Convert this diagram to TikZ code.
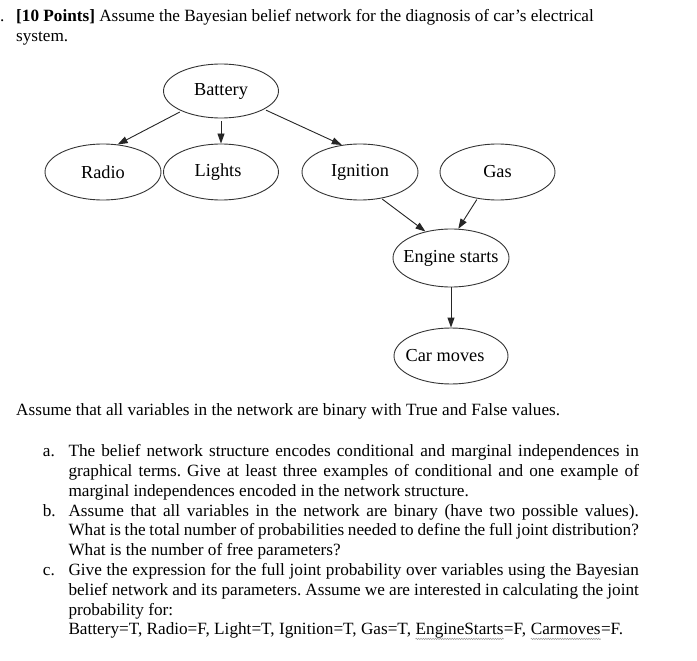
\documentclass[tikz,border=0pt]{standalone}
\usepackage{fontspec}
\setmainfont{Liberation Serif}
\usetikzlibrary{shapes.geometric,arrows.meta,decorations.pathmorphing}
\newcommand\bodyfont{\fontsize{17.2pt}{19.8pt}\selectfont}
\newcommand\diafont{\fontsize{18.3pt}{20pt}\selectfont}
\newcommand\jline[1]{\makebox[570.4pt][s]{#1}}
\frenchspacing
\begin{document}
\begin{tikzpicture}[x=1pt,y=-1pt,
  ell/.style={ellipse,draw=black!80,line width=0.9pt,inner sep=0pt,minimum width=115pt,minimum height=56pt,font=\diafont},
  arr/.style={draw=black!85,line width=0.9pt,-{Triangle[length=10pt,width=7pt]}},
  txt/.style={anchor=base west,inner sep=0pt,font=\bodyfont},
  wave/.style={draw=black!40,line width=0.5pt,decorate,decoration={snake,amplitude=0.7pt,segment length=2.4pt}}]
\useasboundingbox[fill=white] (0,0) rectangle (697,661);

% heading
\node[txt] (dot) at (0,22) {.};
\node[txt] (head1) at (16,22) {\textbf{[10 Points]} Assume the Bayesian belief network for the diagnosis of car’s electrical};
\node[txt] (head2) at (16,41.5) {system.};

% network
\node[ell,minimum width=115pt,minimum height=54pt] (bat) at (221,91) {Battery};
\node[ell,minimum width=116pt] (radio) at (103,172) {Radio};
\node[ell] (lights) at (221,172) {Lights\hspace*{6pt}};
\node[ell,minimum width=116pt] (ign) at (360,172) {Ignition};
\node[ell] (gas) at (497.5,172) {Gas};
\node[ell,inner xsep=-8pt,minimum width=116pt,minimum height=58pt] (eng) at (451,258) {Engine starts};
\node[ell,inner xsep=-8pt,minimum width=114pt] (car) at (451,356) {Car moves\hspace*{12pt}};

\draw[arr,shorten <=2pt] (bat.207) -- (radio.62);
\draw[arr,shorten <=3pt] (bat.south) -- (lights.north);
\draw[arr,shorten <=2pt] (bat.337) -- (ign.124);
\draw[arr,shorten <=1pt] (ign.309) -- (eng.134);
\draw[arr,shorten <=1pt] (gas.233) -- (eng.76);
\draw[arr] (eng.south) -- (car.north);

% text
\node[txt] (intro) at (16,415.7) {Assume that all variables in the network are binary with True and False values.};

\node[txt] (la) at (42.7,456.7) {a.};
\node[txt] (a1) at (68.3,456.7) {\jline{The belief network structure encodes conditional and marginal independences in}};
\node[txt] (a2) at (68.3,476.5) {\jline{graphical terms. Give at least three examples of conditional and one example of}};
\node[txt] (a3) at (68.3,496.3) {marginal independences encoded in the network structure.};

\node[txt] (lb) at (42.7,516.1) {b.};
\node[txt] (b1) at (68.3,516.1) {\jline{Assume that all variables in the network are binary (have two possible values).}};
\node[txt] (b2) at (68.3,535.9) {\jline{What is the total number of probabilities needed to define the full joint distribution?}};
\node[txt] (b3) at (68.3,555.7) {What is the number of free parameters?};

\node[txt] (lc) at (42.7,575.5) {c.};
\node[txt] (c1) at (68.3,575.5) {\jline{Give the expression for the full joint probability over variables using the Bayesian}};
\node[txt] (c2) at (68.3,595.3) {\jline{belief network and its parameters. Assume we are interested in calculating the joint}};
\node[txt] (c3) at (68.3,615.1) {probability for:};
\node[txt] (c4a) at (68.3,634.9) {Battery=T, Radio=F, Light=T, Ignition=T, Gas=T,};
\node[txt] (c4b) at ([xshift=4.3pt]c4a.base east) {EngineStarts};
\node[txt] (c4c) at (c4b.base east) {=F,};
\node[txt] (c4d) at ([xshift=4.3pt]c4c.base east) {Carmoves};
\node[txt] (c4e) at (c4d.base east) {=F.};
\draw[wave] ([yshift=-4pt]c4b.base west) -- ([yshift=-4pt]c4b.base east);
\draw[wave] ([yshift=-4pt]c4d.base west) -- ([yshift=-4pt]c4d.base east);
\end{tikzpicture}
\end{document}
